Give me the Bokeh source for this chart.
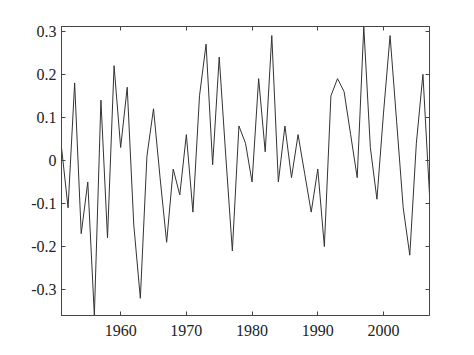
from bokeh.plotting import figure
from bokeh.models import LinearAxis, FixedTicker, Range1d, ColumnDataSource
from bokeh.embed import file_html
from bokeh.resources import INLINE

years = list(range(1951, 2008))
values = [0.03, -0.11, 0.18, -0.17, -0.05, -0.36, 0.14, -0.18, 0.22, 0.03,
          0.17, -0.15, -0.32, 0.01, 0.12, -0.04, -0.19, -0.02, -0.08, 0.06,
          -0.12, 0.15, 0.27, -0.01, 0.24, 0.01, -0.21, 0.08, 0.04, -0.05,
          0.19, 0.02, 0.29, -0.05, 0.08, -0.04, 0.06, -0.03, -0.12, -0.02,
          -0.20, 0.15, 0.19, 0.16, 0.06, -0.04, 0.31, 0.03, -0.09, 0.11,
          0.29, 0.09, -0.11, -0.22, 0.04, 0.20, -0.08]

x_ticks = [1960, 1970, 1980, 1990, 2000]
y_ticks = [0.3, 0.2, 0.1, 0.0, -0.1, -0.2, -0.3]
y_tick_labels = ["0.3", "0.2", "0.1", "0", "-0.1", "-0.2", "-0.3"]

FONT = "Liberation Serif"
AX = "#444444"

src = ColumnDataSource(dict(x=years, y=values))

p = figure(width=474, height=355, output_backend="svg", toolbar_location=None,
           x_range=Range1d(1951, 2007), y_range=Range1d(-0.36, 0.311),
           min_border_left=61, min_border_right=45, min_border_top=26,
           min_border_bottom=40, x_axis_type=None, y_axis_type=None)
p.background_fill_color = "white"
p.border_fill_color = "white"
p.outline_line_color = AX
p.outline_line_width = 1
p.xgrid.visible = False
p.ygrid.visible = False

p.line("x", "y", source=src, line_color="#333333", line_width=1)

labels = {v: s for v, s in zip(y_ticks, y_tick_labels)}


def make_axis(ticks, show_labels, standoff):
    ax = LinearAxis(
        ticker=FixedTicker(ticks=ticks),
        axis_line_color=AX,
        major_tick_line_color=AX,
        major_tick_in=4,
        major_tick_out=0,
        minor_tick_line_color=None,
        major_label_text_font=FONT,
        major_label_text_font_size="16px",
        major_label_text_font_style="normal",
        major_label_text_color="#222222" if show_labels else None,
        major_label_standoff=standoff if show_labels else 0,
    )
    return ax


xb = make_axis(x_ticks, True, 9)
p.add_layout(xb, "below")

xt = make_axis(x_ticks, False, 0)
p.add_layout(xt, "above")

yl = make_axis(y_ticks, True, 5)
yl.major_label_overrides = labels
p.add_layout(yl, "left")

yr = make_axis(y_ticks, False, 0)
p.add_layout(yr, "right")

open("out.html", "w").write(file_html(p, INLINE))
